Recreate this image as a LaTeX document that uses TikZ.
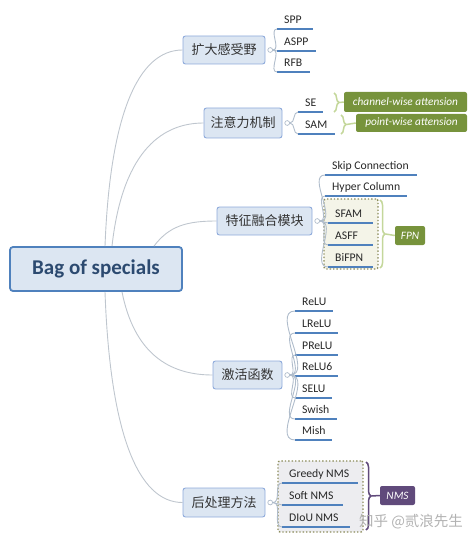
\documentclass[tikz,border=0pt]{standalone}
\usepackage{fontspec}
\setmainfont{Carlito}
\newfontfamily\cjk{Noto Sans CJK SC}
\usepackage{tikz}
\usetikzlibrary{positioning}
\usetikzlibrary{decorations.pathreplacing}

\definecolor{boxfill}{HTML}{DCE6F2}
\definecolor{boxline}{HTML}{8EAADB}
\definecolor{rootline}{HTML}{4F81BD}
\definecolor{roottext}{HTML}{2C4A70}
\definecolor{ulblue}{HTML}{4F81BD}
\definecolor{twiggray}{HTML}{AFBCCB}
\definecolor{limbgray}{HTML}{BFC6CE}
\definecolor{olive}{HTML}{77933C}
\definecolor{olivelight}{HTML}{C4D79B}
\definecolor{plum}{HTML}{604A7B}
\definecolor{fpnfill}{HTML}{F4F4E8}
\definecolor{nmsfill}{HTML}{EDEDF0}
\definecolor{dotline}{HTML}{8C8C5A}

\tikzset{
  topic/.style={draw=rootline, line width=1.8pt, fill=boxfill, rounded corners=3pt,
    minimum width=172pt, minimum height=44pt,
    font=\fontsize{21}{24}\selectfont\bfseries, text=roottext},
  branch/.style={draw=boxline, line width=0.9pt, fill=boxfill, rounded corners=2.5pt,
    minimum height=28pt, font=\cjk\fontsize{13}{15}\selectfont, text=black!80},
  knob/.style={circle, draw=twiggray, fill=white, line width=0.7pt, inner sep=1.7pt},
  limb/.style={draw=limbgray, line width=0.9pt},
  twig/.style={draw=twiggray, line width=0.9pt},
  leaf/.style={anchor=south west, inner xsep=7pt, inner ysep=2.5pt, text depth=2.5pt,
    font=\fontsize{11.7}{13}\selectfont, text=black!85},
  uline/.style={draw=ulblue, line width=1.6pt},
  tag/.style={rounded corners=2pt, text=white, font=\fontsize{11.3}{13}\selectfont\itshape, inner sep=0pt},
  groupbox/.style={draw=dotline, dotted, line width=1.4pt, rounded corners=2pt},
  summary/.style={decorate, decoration={brace, amplitude=5pt}, line width=1.5pt},
}

\begin{document}
\begin{tikzpicture}[x=1pt, y=-1pt]
    \useasboundingbox (0,0) rectangle (474,540);

    % central topic and main topics
    \node[topic] (root) at (96,269) {Bag of specials};
    \node[branch, minimum width=82pt] (rf) at (224,50) {扩大感受野};
    \node[branch, minimum width=78pt, minimum height=30pt] (att) at (243,123) {注意力机制};
    \node[branch, minimum width=95pt] (fuse) at (264.5,221) {特征融合模块};
    \node[branch, minimum width=69pt] (act) at (247.5,375) {激活函数};
    \node[branch, minimum width=82pt, minimum height=29pt] (post) at (224,502.5) {后处理方法};

    \draw[limb] ([xshift=9pt]root.north) .. controls +(5,-130) and +(-45,0) .. (rf.west);
    \draw[limb] ([xshift=16pt]root.north) .. controls +(10,-90) and +(-45,0) .. (att.west);
    \draw[limb] ([xshift=58pt]root.north) .. controls +(15,-20) and +(-30,0) .. (fuse.west);
    \draw[limb] ([xshift=26pt]root.south) .. controls +(12,60) and +(-45,0) .. (act.west);
    \draw[limb] ([xshift=9pt]root.south) .. controls +(5,140) and +(-45,0) .. (post.west);

    \node[knob, right=2pt of rf] (rfk) {};
    \node[knob, right=2pt of att] (attk) {};
    \node[knob, right=2pt of fuse] (fusek) {};
    \node[knob, right=2pt of act] (actk) {};
    \node[knob, right=2pt of post] (postk) {};

    % receptive field
    \node[leaf] (spp) at (277,29) {SPP};
    \node[leaf] (aspp) at (277,51) {ASPP};
    \node[leaf] (rfb) at (277,72) {RFB};
    \draw[uline] (spp.south west) -- ++(36,0);
    \draw[uline] (aspp.south west) -- ++(39,0);
    \draw[uline] (rfb.south west) -- ++(33,0);
    \draw[twig] (rfk.east) to[out=0,in=180] (spp.south west);
    \draw[twig] (rfk.east) to[out=0,in=180] (aspp.south west);
    \draw[twig] (rfk.east) to[out=0,in=180] (rfb.south west);

    % attention
    \node[leaf] (se) at (298,112) {SE};
    \node[leaf] (sam) at (298,134) {SAM};
    \draw[uline] (se.south west) -- ++(25,0);
    \draw[uline] (sam.south west) -- ++(37,0);
    \draw[twig] (attk.east) to[out=0,in=180] (se.south west);
    \draw[twig] (attk.east) to[out=0,in=180] (sam.south west);
    \draw[summary, olivelight] (334,93) -- (334,112);
    \draw[summary, olivelight] (341,115) -- (341,134);
    \node[tag, fill=olive, minimum width=123pt, minimum height=20pt] (cwa) at (405.5,102) {channel-wise attension};
    \node[tag, fill=olive, minimum width=111pt, minimum height=18pt] (pwa) at (411.5,123) {point-wise attension};
    \coordinate (cwatip) at (339.5,102.5);
    \coordinate (pwatip) at (346.5,124.5);
    \draw[olivelight, line width=1.5pt] (cwatip) -- (cwa.west);
    \draw[olivelight, line width=1.5pt] (pwatip) -- (pwa.west);

    % feature fusion
    \node[groupbox, fill=fpnfill, minimum width=54pt, minimum height=70pt] (fpnset) at (351,234) {};
    \node[leaf] (skip) at (325,175) {Skip Connection};
    \node[leaf] (hyper) at (325,196) {Hyper Column};
    \node[leaf] (sfam) at (328,223) {SFAM};
    \node[leaf] (asff) at (328,245) {ASFF};
    \node[leaf] (bifpn) at (328,267) {BiFPN};
    \draw[uline] (skip.south west) -- ++(92,0);
    \draw[uline] (hyper.south west) -- ++(82,0);
    \draw[uline] (sfam.south west) -- ++(45,0);
    \draw[uline] (asff.south west) -- ++(45,0);
    \draw[uline] (bifpn.south west) -- ++(45,0);
    \draw[twig] (fusek.east) to[out=0,in=180] (skip.south west);
    \draw[twig] (fusek.east) to[out=0,in=180] (hyper.south west);
    \draw[twig] (fusek.east) to[out=0,in=180] (sfam.south west);
    \draw[twig] (fusek.east) to[out=0,in=180] (asff.south west);
    \draw[twig] (fusek.east) to[out=0,in=180] (bifpn.south west);
    \draw[summary, olivelight] (380,200) -- (380,268);
    \node[tag, fill=olive, minimum width=30pt, minimum height=19pt] (fpn) at (410,235.5) {FPN};
    \coordinate (fpntip) at (385.5,234);
    \draw[olivelight, line width=1.5pt] (fpntip) -- (fpn.west);

    % activation
    \node[leaf] (relu) at (295,311) {ReLU};
    \node[leaf] (lrelu) at (295,333) {LReLU};
    \node[leaf] (prelu) at (295,355) {PReLU};
    \node[leaf] (relusix) at (295,376) {ReLU6};
    \node[leaf] (selu) at (295,398) {SELU};
    \node[leaf] (swish) at (295,419) {Swish};
    \node[leaf] (mish) at (295,440) {Mish};
    \draw[uline] (relu.south west) -- ++(38,0);
    \draw[uline] (lrelu.south west) -- ++(43,0);
    \draw[uline] (prelu.south west) -- ++(43,0);
    \draw[uline] (relusix.south west) -- ++(43,0);
    \draw[uline] (selu.south west) -- ++(37,0);
    \draw[uline] (swish.south west) -- ++(42,0);
    \draw[uline] (mish.south west) -- ++(37,0);
    \draw[twig] (actk.east) to[out=0,in=180] (relu.south west);
    \draw[twig] (actk.east) to[out=0,in=180] (lrelu.south west);
    \draw[twig] (actk.east) to[out=0,in=180] (prelu.south west);
    \draw[twig] (actk.east) to[out=0,in=180] (relusix.south west);
    \draw[twig] (actk.east) to[out=0,in=180] (selu.south west);
    \draw[twig] (actk.east) to[out=0,in=180] (swish.south west);
    \draw[twig] (actk.east) to[out=0,in=180] (mish.south west);

    % post processing
    \node[groupbox, fill=nmsfill, minimum width=85pt, minimum height=71pt] (nmsset) at (320.5,496.5) {};
    \node[leaf] (greedy) at (282,483) {Greedy NMS};
    \node[leaf] (soft) at (282,505) {Soft NMS};
    \node[leaf] (diou) at (282,527) {DIoU NMS};
    \draw[uline] (greedy.south west) -- ++(76,0);
    \draw[uline] (soft.south west) -- ++(61,0);
    \draw[uline] (diou.south west) -- ++(68,0);
    \draw[twig] (postk.east) to[out=0,in=180] (greedy.south west);
    \draw[twig] (postk.east) to[out=0,in=180] (soft.south west);
    \draw[twig] (postk.east) to[out=0,in=180] (diou.south west);
    \draw[summary, plum] (366,462) -- (366,530);
    \node[tag, fill=plum, minimum width=35pt, minimum height=19pt] (nms) at (397.5,495.5) {NMS};
    \coordinate (nmstip) at (371.5,496);
    \draw[plum, line width=1.5pt] (nmstip) -- (nms.west);

    \node[text=black!30, font=\cjk\fontsize{14.5}{16}\selectfont] (mark) at (411,522) {知乎 @贰浪先生};
\end{tikzpicture}
\end{document}
